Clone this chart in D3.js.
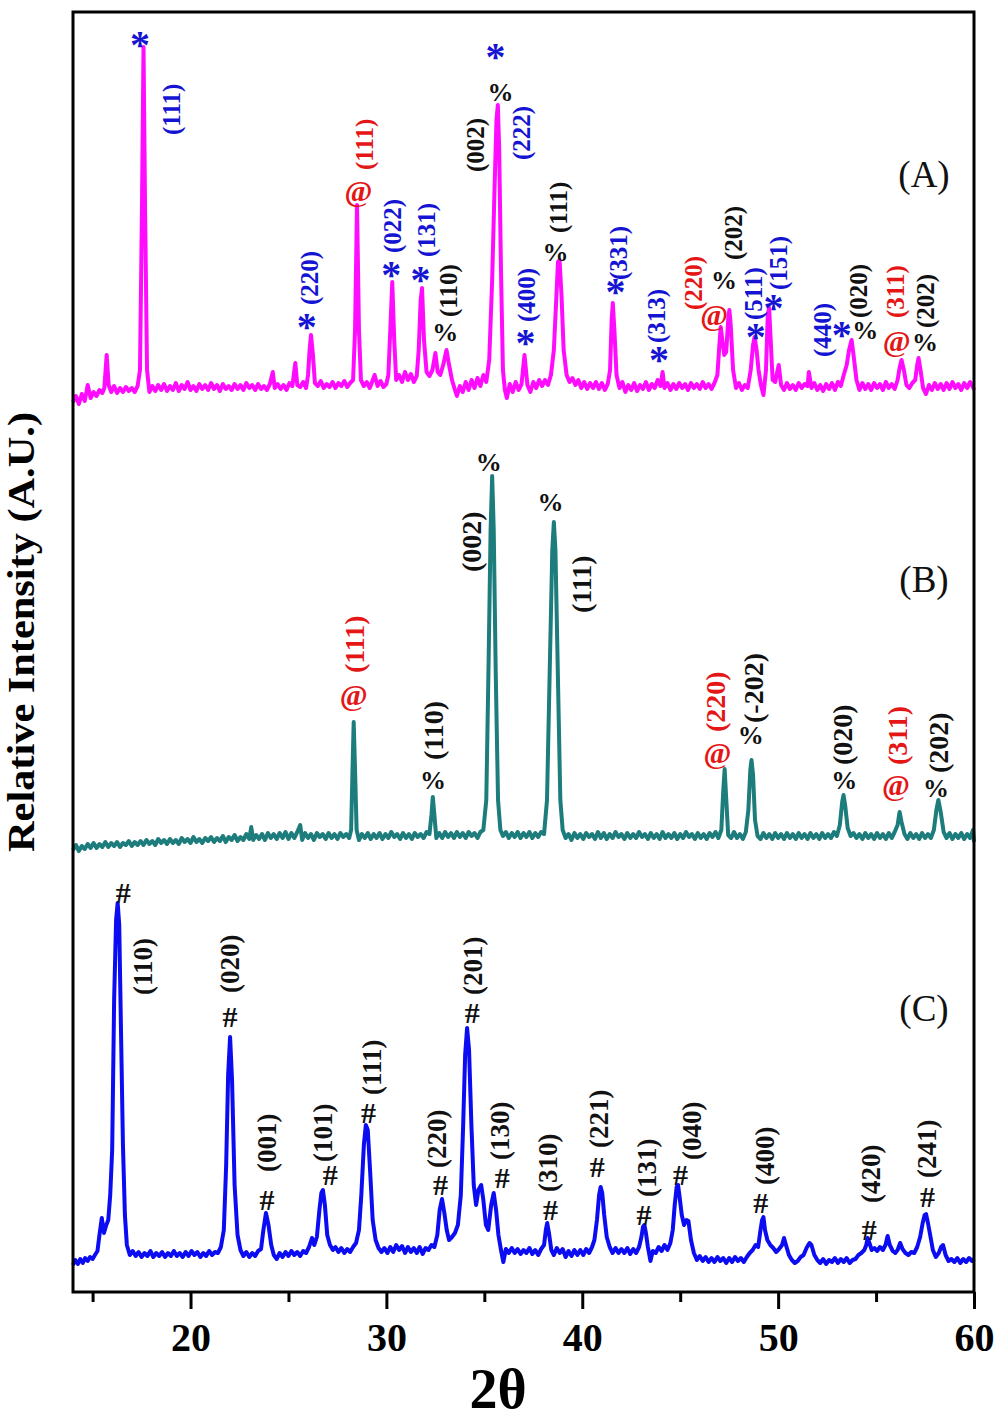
<!DOCTYPE html>
<html>
<head>
<meta charset="utf-8">
<script src="https://cdn.jsdelivr.net/npm/d3@7"></script>
<style>
  body { margin: 0; background: #fff; }
  svg { display: block; }
  text { font-family: "Liberation Serif", "Times New Roman", serif; }
</style>
</head>
<body>
<svg id="chart"></svg>
<script>
// XRD patterns, [2theta, intensity (A.U.)]
const traceA = [
  [14.0,8],[14.15,14],[14.3,6],[14.45,16],[14.6,9],[14.75,25],[14.9,12],[15.05,18],[15.2,14],[15.35,20],[15.5,17],[15.6,22],
  [15.72,55],[15.82,25],[15.95,18],[16.1,24],[16.25,17],[16.4,22],[16.55,18],[16.7,23],[16.85,19],[17.0,22],[17.15,18],[17.3,24],
  [17.42,40],[17.52,200],[17.6,363],[17.68,200],[17.78,40],[17.9,18],[18.05,24],[18.2,19],[18.35,25],[18.5,20],[18.65,26],[18.8,19],
  [18.95,24],[19.1,20],[19.25,27],[19.4,19],[19.55,25],[19.7,21],[19.85,28],[20.0,20],[20.15,24],[20.3,19],[20.45,26],[20.6,21],
  [20.75,25],[20.9,20],[21.05,27],[21.2,21],[21.35,25],[21.5,19],[21.65,26],[21.8,21],[21.95,24],[22.1,20],[22.25,26],[22.4,21],
  [22.55,25],[22.7,20],[22.85,27],[23.0,22],[23.15,25],[23.3,20],[23.45,26],[23.6,21],[23.75,24],[23.9,20],[24.05,26],[24.2,38],
  [24.3,22],[24.45,26],[24.6,21],[24.75,25],[24.9,20],[25.05,27],[25.2,24],[25.35,47],[25.45,25],[25.6,23],[25.75,28],[25.9,22],
  [26.0,35],[26.08,60],[26.15,75],[26.25,55],[26.35,27],[26.5,24],[26.65,29],[26.8,22],[26.95,26],[27.1,23],[27.25,28],[27.4,22],
  [27.55,27],[27.7,24],[27.85,29],[28.0,23],[28.15,27],[28.3,30],[28.4,80],[28.5,205],[28.6,80],[28.7,30],[28.85,24],[29.0,28],
  [29.15,22],[29.25,27],[29.4,35],[29.55,24],[29.7,29],[29.85,23],[30.0,26],[30.1,35],[30.2,80],[30.3,128],[30.4,70],[30.5,30],
  [30.65,35],[30.8,28],[30.95,38],[31.1,30],[31.25,36],[31.4,28],[31.55,34],[31.65,60],[31.75,110],[31.82,122],[31.92,70],[32.05,38],
  [32.2,34],[32.35,40],[32.5,57],[32.62,38],[32.75,35],[32.9,45],[33.07,60],[33.2,45],[33.35,30],[33.5,20],[33.6,14],[33.75,24],
  [33.9,18],[34.05,28],[34.2,20],[34.35,30],[34.5,22],[34.65,32],[34.8,24],[34.95,35],[35.1,28],[35.25,50],[35.4,130],[35.52,220],
  [35.62,290],[35.69,305],[35.76,260],[35.85,140],[35.95,40],[36.05,20],[36.15,12],[36.3,26],[36.45,18],[36.6,28],[36.75,20],[36.9,26],
  [37.05,55],[37.2,25],[37.35,18],[37.5,28],[37.65,22],[37.8,30],[37.95,24],[38.1,30],[38.25,25],[38.4,35],[38.55,60],[38.67,110],
  [38.76,148],[38.84,150],[38.94,115],[39.05,60],[39.2,35],[39.35,28],[39.5,32],[39.65,25],[39.8,30],[39.95,22],[40.1,28],[40.25,21],
  [40.4,27],[40.55,22],[40.7,28],[40.85,21],[41.0,27],[41.15,20],[41.3,26],[41.42,40],[41.5,90],[41.56,107],[41.64,80],[41.75,35],
  [41.9,22],[42.05,28],[42.2,18],[42.35,25],[42.5,20],[42.65,27],[42.8,19],[42.95,25],[43.1,21],[43.25,28],[43.4,20],[43.55,26],
  [43.7,22],[43.85,30],[44.0,24],[44.1,38],[44.2,22],[44.35,27],[44.5,20],[44.65,26],[44.8,21],[44.95,27],[45.1,22],[45.25,26],
  [45.4,20],[45.55,27],[45.7,22],[45.85,26],[46.0,21],[46.15,28],[46.3,22],[46.45,26],[46.6,21],[46.75,27],[46.9,35],[47.0,65],
  [47.07,83],[47.15,70],[47.25,55],[47.35,58],[47.45,90],[47.51,100],[47.58,85],[47.7,40],[47.85,22],[48.0,27],[48.15,20],[48.3,25],
  [48.45,22],[48.6,40],[48.72,65],[48.8,73],[48.9,60],[49.0,40],[49.12,25],[49.25,15],[49.38,40],[49.47,95],[49.54,102],[49.62,70],
  [49.72,30],[49.85,28],[50.03,45],[50.15,25],[50.3,20],[50.45,27],[50.6,21],[50.75,25],[50.9,20],[51.05,27],[51.2,22],[51.35,26],
  [51.5,24],[51.57,38],[51.7,22],[51.85,27],[52.0,20],[52.15,25],[52.3,19],[52.45,26],[52.6,21],[52.75,27],[52.9,20],[53.05,28],
  [53.2,24],[53.35,35],[53.5,45],[53.62,60],[53.75,70],[53.85,55],[54.0,30],[54.15,20],[54.3,27],[54.45,21],[54.6,26],[54.75,20],
  [54.9,27],[55.05,22],[55.2,26],[55.35,20],[55.5,28],[55.65,22],[55.8,26],[55.95,21],[56.1,30],[56.2,42],[56.3,50],[56.42,40],
  [56.55,25],[56.7,22],[56.85,27],[57.0,30],[57.1,45],[57.17,52],[57.27,40],[57.4,22],[57.55,16],[57.7,25],[57.85,20],[58.0,27],
  [58.15,21],[58.3,26],[58.45,20],[58.6,27],[58.75,21],[58.9,28],[59.05,22],[59.2,26],[59.35,20],[59.5,27],[59.65,22],[59.8,28],
  [59.95,23],[60.0,20]
];

const traceB = [
  [14.0,10],[14.15,15],[14.3,9],[14.45,14],[14.6,11],[14.75,16],[14.9,12],[15.05,17],[15.2,12],[15.35,16],[15.5,13],[15.65,18],
  [15.8,13],[15.95,17],[16.1,14],[16.25,18],[16.4,13],[16.55,17],[16.7,15],[16.85,19],[17.0,14],[17.15,18],[17.3,15],[17.45,19],
  [17.6,15],[17.75,20],[17.9,16],[18.05,19],[18.2,15],[18.35,21],[18.5,17],[18.65,20],[18.8,16],[18.95,21],[19.1,17],[19.25,20],
  [19.4,16],[19.55,22],[19.7,18],[19.85,21],[20.0,17],[20.15,23],[20.3,18],[20.45,21],[20.6,17],[20.75,22],[20.9,19],[21.05,23],
  [21.2,18],[21.35,22],[21.5,19],[21.65,24],[21.8,18],[21.95,23],[22.1,20],[22.25,25],[22.4,19],[22.55,23],[22.7,20],[22.85,26],
  [23.0,21],[23.1,33],[23.2,20],[23.35,25],[23.5,21],[23.65,26],[23.8,20],[23.95,27],[24.1,22],[24.25,26],[24.4,21],[24.55,27],
  [24.7,22],[24.85,28],[25.0,21],[25.15,27],[25.3,22],[25.45,28],[25.6,35],[25.7,20],[25.85,27],[26.0,22],[26.15,26],[26.3,20],
  [26.45,27],[26.6,23],[26.75,26],[26.9,21],[27.05,27],[27.2,22],[27.35,26],[27.5,21],[27.65,27],[27.8,23],[27.95,26],[28.1,22],
  [28.2,30],[28.27,90],[28.33,138],[28.4,90],[28.48,30],[28.6,20],[28.75,26],[28.9,22],[29.05,27],[29.2,21],[29.35,26],[29.5,22],
  [29.65,27],[29.8,21],[29.95,26],[30.1,22],[30.25,28],[30.4,23],[30.55,26],[30.7,21],[30.85,27],[31.0,22],[31.15,26],[31.3,21],
  [31.45,27],[31.6,23],[31.75,26],[31.9,22],[32.05,28],[32.2,26],[32.3,45],[32.37,63],[32.45,45],[32.55,22],[32.7,27],[32.85,22],
  [33.0,28],[33.15,23],[33.3,27],[33.45,22],[33.6,28],[33.75,23],[33.9,27],[34.05,22],[34.2,28],[34.35,24],[34.5,27],[34.65,22],
  [34.8,28],[34.95,30],[35.1,60],[35.22,200],[35.32,330],[35.4,384],[35.48,330],[35.58,190],[35.7,60],[35.82,30],[35.95,24],[36.1,28],
  [36.25,22],[36.4,27],[36.55,23],[36.7,28],[36.85,22],[37.0,27],[37.15,23],[37.3,28],[37.45,22],[37.6,27],[37.75,23],[37.9,28],
  [38.05,26],[38.2,60],[38.35,200],[38.47,310],[38.55,338],[38.63,310],[38.75,190],[38.88,60],[39.0,30],[39.15,22],[39.3,26],[39.45,20],
  [39.6,27],[39.75,22],[39.9,26],[40.05,21],[40.2,27],[40.35,23],[40.5,26],[40.65,21],[40.8,28],[40.95,22],[41.1,27],[41.25,21],
  [41.4,26],[41.55,22],[41.7,28],[41.85,23],[42.0,26],[42.15,21],[42.3,27],[42.45,22],[42.6,26],[42.75,22],[42.9,28],[43.05,23],
  [43.2,26],[43.35,21],[43.5,27],[43.65,22],[43.8,26],[43.95,21],[44.1,28],[44.25,22],[44.4,26],[44.55,22],[44.7,27],[44.85,21],
  [45.0,26],[45.15,22],[45.3,28],[45.45,23],[45.6,26],[45.75,21],[45.9,27],[46.05,22],[46.2,26],[46.35,21],[46.5,27],[46.65,23],
  [46.8,28],[46.95,22],[47.1,30],[47.2,70],[47.27,91],[47.34,65],[47.45,25],[47.6,22],[47.75,28],[47.9,22],[48.05,26],[48.2,21],
  [48.35,28],[48.48,50],[48.58,90],[48.64,100],[48.72,85],[48.82,40],[48.95,24],[49.1,21],[49.25,27],[49.4,22],[49.55,26],[49.7,21],
  [49.85,27],[50.0,22],[50.15,26],[50.3,21],[50.45,27],[50.6,22],[50.75,26],[50.9,21],[51.05,27],[51.2,22],[51.35,26],[51.5,21],
  [51.65,27],[51.8,22],[51.95,26],[52.1,21],[52.25,27],[52.4,22],[52.55,26],[52.7,22],[52.85,28],[53.0,24],[53.15,35],[53.27,58],
  [53.34,65],[53.42,55],[53.55,32],[53.7,24],[53.85,27],[54.0,22],[54.15,26],[54.3,21],[54.45,27],[54.6,22],[54.75,26],[54.9,21],
  [55.05,27],[55.2,22],[55.35,26],[55.5,21],[55.65,27],[55.8,22],[55.95,28],[56.1,35],[56.2,48],[56.3,38],[56.45,26],[56.6,21],
  [56.75,27],[56.9,22],[57.05,26],[57.2,21],[57.35,27],[57.5,22],[57.65,26],[57.8,22],[57.95,30],[58.08,50],[58.18,60],[58.3,48],
  [58.45,28],[58.6,22],[58.75,27],[58.9,21],[59.05,26],[59.2,22],[59.35,27],[59.5,21],[59.65,26],[59.8,22],[59.95,30],[60.0,18]
];

const traceC = [
  [14.0,10],[14.12,15],[14.25,11],[14.37,16],[14.5,12],[14.62,17],[14.75,14],[14.87,18],[15.0,16],[15.12,20],[15.25,24],[15.35,40],
  [15.47,57],[15.58,42],[15.7,50],[15.8,55],[15.9,80],[16.0,125],[16.1,275],[16.2,355],[16.28,372],[16.36,350],[16.45,245],[16.55,130],
  [16.65,60],[16.75,30],[16.9,20],[17.05,24],[17.2,19],[17.35,23],[17.5,18],[17.65,22],[17.8,19],[17.95,24],[18.1,18],[18.25,22],
  [18.4,19],[18.55,23],[18.7,18],[18.85,22],[19.0,19],[19.15,24],[19.3,19],[19.45,22],[19.6,18],[19.75,23],[19.9,19],[20.05,24],
  [20.2,20],[20.35,23],[20.5,18],[20.65,22],[20.8,19],[20.95,24],[21.1,20],[21.25,23],[21.4,22],[21.55,28],[21.7,45],[21.82,110],
  [21.92,200],[22.02,238],[22.12,195],[22.25,90],[22.4,40],[22.55,25],[22.7,19],[22.85,23],[23.0,18],[23.15,22],[23.3,19],[23.45,24],
  [23.6,26],[23.72,45],[23.85,62],[23.98,50],[24.12,30],[24.25,20],[24.4,16],[24.55,22],[24.7,18],[24.85,23],[25.0,19],[25.15,24],
  [25.3,20],[25.45,23],[25.6,19],[25.75,24],[25.9,22],[26.05,28],[26.2,37],[26.32,30],[26.45,38],[26.58,65],[26.68,82],[26.76,85],
  [26.86,70],[26.98,40],[27.12,30],[27.27,25],[27.4,28],[27.55,23],[27.7,27],[27.85,22],[28.0,26],[28.15,23],[28.3,28],[28.45,32],
  [28.6,45],[28.72,80],[28.85,130],[28.95,150],[29.05,145],[29.18,100],[29.3,55],[29.45,35],[29.6,27],[29.75,23],[29.9,27],[30.05,22],
  [30.2,28],[30.35,23],[30.5,30],[30.65,25],[30.8,29],[30.95,22],[31.1,28],[31.25,23],[31.4,27],[31.55,22],[31.7,28],[31.85,21],
  [32.0,27],[32.15,25],[32.3,30],[32.45,28],[32.6,40],[32.72,65],[32.84,76],[32.96,62],[33.08,45],[33.2,35],[33.35,38],[33.5,42],
  [33.65,50],[33.8,80],[33.92,150],[34.02,220],[34.12,247],[34.22,225],[34.34,150],[34.46,90],[34.58,70],[34.7,85],[34.84,90],[34.95,75],
  [35.08,50],[35.2,45],[35.35,70],[35.48,82],[35.6,65],[35.72,40],[35.85,25],[35.97,13],[36.1,26],[36.25,22],[36.4,27],[36.55,22],
  [36.7,26],[36.85,21],[37.0,25],[37.15,22],[37.3,27],[37.45,21],[37.6,25],[37.75,20],[37.9,26],[38.05,30],[38.14,45],[38.21,52],
  [38.3,42],[38.42,25],[38.55,20],[38.7,27],[38.85,22],[39.0,26],[39.15,18],[39.3,24],[39.45,19],[39.6,25],[39.75,20],[39.9,25],
  [40.05,20],[40.2,26],[40.35,22],[40.5,28],[40.62,35],[40.75,55],[40.86,80],[40.94,88],[41.02,82],[41.12,60],[41.25,38],[41.4,28],
  [41.55,22],[41.7,27],[41.85,22],[42.0,26],[42.15,22],[42.3,27],[42.45,21],[42.6,26],[42.75,22],[42.9,28],[43.02,38],[43.1,48],
  [43.17,50],[43.25,42],[43.35,28],[43.48,14],[43.6,24],[43.75,22],[43.9,28],[44.05,24],[44.2,30],[44.35,25],[44.5,32],[44.62,45],
  [44.72,70],[44.82,88],[44.89,90],[44.97,78],[45.08,60],[45.2,50],[45.32,55],[45.42,54],[45.55,35],[45.7,22],[45.85,15],[46.0,19],
  [46.15,14],[46.3,18],[46.45,13],[46.6,17],[46.75,13],[46.9,18],[47.05,14],[47.2,17],[47.35,12],[47.5,17],[47.65,13],[47.8,18],
  [47.95,14],[48.1,17],[48.25,13],[48.4,18],[48.55,22],[48.7,25],[48.85,30],[48.98,28],[49.1,45],[49.18,55],[49.25,58],[49.33,45],
  [49.45,35],[49.6,30],[49.75,27],[49.9,23],[50.05,26],[50.2,30],[50.3,37],[50.4,30],[50.55,20],[50.7,15],[50.85,12],[51.0,14],
  [51.15,18],[51.3,20],[51.45,27],[51.6,32],[51.7,30],[51.85,20],[52.0,15],[52.15,12],[52.3,16],[52.45,11],[52.6,15],[52.75,13],
  [52.9,17],[53.05,12],[53.2,16],[53.35,13],[53.5,17],[53.65,12],[53.8,15],[53.95,16],[54.1,20],[54.25,22],[54.4,25],[54.5,30],
  [54.57,37],[54.66,32],[54.78,25],[54.92,27],[55.05,24],[55.2,28],[55.35,25],[55.48,30],[55.59,39],[55.7,30],[55.85,24],[55.98,22],
  [56.1,25],[56.23,32],[56.35,26],[56.5,22],[56.65,20],[56.8,23],[56.95,22],[57.1,28],[57.25,38],[57.38,52],[57.48,60],[57.55,61],
  [57.65,52],[57.78,38],[57.9,25],[58.05,18],[58.2,22],[58.32,28],[58.42,30],[58.55,20],[58.7,14],[58.85,16],[59.0,13],[59.15,17],
  [59.3,12],[59.45,16],[59.6,13],[59.75,17],[59.9,14],[60.0,16]
];

// phase marks: [2theta, intensity, symbol]
const marksA = [
  [17.42,370,"*"],[25.94,88,"*"],[28.58,217,"@"],[30.25,140,"*"],[31.74,135,"*"],[33.01,78,"%"],[35.57,358,"*"],[35.82,318,"%"],
  [37.10,72,"*"],[38.64,158,"%"],[41.70,123,"*"],[43.92,55,"*"],[46.73,93,"@"],[47.24,130,"%"],[48.86,78,"*"],[49.76,107,"*"],
  [53.25,80,"*"],[54.45,80,"%"],[56.05,67,"@"],[57.5,68,"%"]
];
const marksB = [
  [35.23,398,"%"],[28.33,163,"@"],[32.38,80,"%"],[38.38,358,"%"],[46.90,105,"@"],[48.60,125,"%"],[53.37,80,"%"],[56.01,73,"@"],[58.06,72,"%"]
];
const marksC = [
  [16.57,382,"#"],[22.02,258,"#"],[23.90,75,"#"],[27.14,100,"#"],[29.09,162,"#"],[32.76,90,"#"],[34.38,262,"#"],[35.91,97,"#"],
  [38.38,65,"#"],[40.77,108,"#"],[43.15,60,"#"],[45.02,100,"#"],[49.11,72,"#"],[54.65,45,"#"],[57.63,78,"#"]
];

// Miller indices: [2theta, intensity at start of text, label, phase symbol]
const hklA = [
  [19.04,275,"(111)","*"],[28.92,240,"(111)","@"],[26.11,105,"(220)","*"],[30.32,157,"(022)","*"],[32.08,153,"(131)","*"],
  [33.18,93,"(110)","%"],[34.55,238,"(002)","%"],[36.93,250,"(222)","*"],[37.20,88,"(400)","*"],[38.80,177,"(111)","%"],
  [41.87,130,"(331)","*"],[43.83,67,"(313)","*"],[45.70,100,"(220)","@"],[47.75,150,"(202)","%"],[48.77,90,"(511)","*"],
  [50.05,120,"(151)","*"],[52.27,53,"(440)","*"],[54.14,92,"(020)","%"],[56.01,92,"(311)","@"],[57.55,82,"(202)","%"]
];
const hklB = [
  [34.38,288,"(002)","%"],[28.41,187,"(111)","@"],[32.42,100,"(110)","%"],[40.00,247,"(111)","%"],[46.81,128,"(220)","@"],
  [48.77,137,"(-202)","%"],[53.29,95,"(020)","%"],[56.10,95,"(311)","@"],[58.23,87,"(202)","%"]
];
const hklC = [
  [17.59,280,"(110)"],[22.02,282,"(020)"],[23.90,103,"(001)"],[26.79,113,"(101)"],[29.27,180,"(111)"],[32.59,107,"(220)"],
  [34.46,280,"(201)"],[35.82,115,"(130)"],[38.29,83,"(310)"],[40.85,127,"(221)"],[43.32,78,"(131)"],[45.62,115,"(040)"],
  [49.37,90,"(400)"],[54.74,72,"(420)"],[57.63,97,"(241)"]
];

const majorTicks = [20, 30, 40, 50, 60];
const minorTicks = [15, 25, 35, 45, 55];

const phaseColor = { "*": "#1414d2", "@": "#e41616", "%": "#111", "#": "#111" };

const width = 1000, height = 1423;
const svg = d3.select("#chart").attr("width", width).attr("height", height);

const x = d3.scaleLinear().domain([14, 60]).range([73, 974]);
const y = d3.scaleLinear().domain([0, 1280]).range([1292, 12]);

const panels = [
  { data: traceA, marks: marksA, hkl: hklA, offset: 882, color: "#ff0cff", name: "(A)", hklSize: 25 },
  { data: traceB, marks: marksB, hkl: hklB, offset: 432, color: "#1d7c7c", name: "(B)", hklSize: 28 },
  { data: traceC, marks: marksC, hkl: hklC, offset: 17, color: "#0c0cf2", name: "(C)", hklSize: 27 }
];

const markStyle = {
  "*": { size: 40, dy: "0.46em" },
  "@": { size: 30, dy: "0.28em" },
  "%": { size: 26, dy: "0.34em" },
  "#": { size: 30, dy: "0.34em" }
};

panels.forEach(p => {
  const line = d3.line()
    .x(d => x(d[0]))
    .y(d => y(d[1] + p.offset));

  svg.append("path")
    .datum(p.data)
    .attr("fill", "none")
    .attr("stroke", p.color)
    .attr("stroke-width", 4)
    .attr("stroke-linejoin", "round")
    .attr("d", line);

  svg.append("g").selectAll("text")
    .data(p.marks)
    .enter()
    .append("text")
    .attr("x", d => x(d[0]))
    .attr("y", d => y(d[1] + p.offset))
    .attr("dy", d => markStyle[d[2]].dy)
    .attr("text-anchor", "middle")
    .style("font-size", d => markStyle[d[2]].size + "px")
    .style("font-weight", "bold")
    .attr("fill", d => phaseColor[d[2]])
    .text(d => d[2]);

  svg.append("g").selectAll("text")
    .data(p.hkl)
    .enter()
    .append("text")
    .attr("transform", d => `translate(${x(d[0])},${y(d[1] + p.offset)}) rotate(-90)`)
    .attr("dy", "0.32em")
    .style("font-size", p.hklSize + "px")
    .style("font-weight", "bold")
    .attr("fill", d => phaseColor[d[3] || "#"])
    .text(d => d[2]);
});

// panel names
const nameY = [187, 592, 1021];
panels.forEach((p, i) => {
  svg.append("text")
    .attr("x", 924)
    .attr("y", nameY[i])
    .attr("text-anchor", "middle")
    .style("font-size", "37px")
    .attr("fill", "#111")
    .text(p.name);
});

// frame
svg.append("rect")
  .attr("x", 73).attr("y", 12)
  .attr("width", 901).attr("height", 1280)
  .attr("fill", "none")
  .attr("stroke", "#000")
  .attr("stroke-width", 3);

// x axis ticks
const gMajor = svg.append("g")
  .attr("transform", "translate(0,1292)")
  .call(d3.axisBottom(x).tickValues(majorTicks).tickSize(17).tickFormat(d3.format("d")));
gMajor.select(".domain").remove();
gMajor.selectAll("line").attr("stroke", "#000").attr("stroke-width", 3);
gMajor.selectAll("text")
  .attr("y", 59).attr("dy", null)
  .attr("fill", "#000")
  .style("font-family", "'Liberation Serif', 'Times New Roman', serif")
  .style("font-size", "40px")
  .style("font-weight", "bold");

const gMinor = svg.append("g")
  .attr("transform", "translate(0,1292)")
  .call(d3.axisBottom(x).tickValues(minorTicks).tickSize(10).tickFormat(""));
gMinor.select(".domain").remove();
gMinor.selectAll("line").attr("stroke", "#000").attr("stroke-width", 3);

// axis titles
svg.append("text")
  .attr("x", 498)
  .attr("y", 1408)
  .attr("text-anchor", "middle")
  .style("font-size", "56px")
  .style("font-weight", "bold")
  .text("2θ");

svg.append("text")
  .attr("transform", "translate(21,632) rotate(-90)")
  .attr("dy", "0.35em")
  .attr("text-anchor", "middle")
  .attr("textLength", 440)
  .attr("lengthAdjust", "spacingAndGlyphs")
  .style("font-size", "38px")
  .style("font-weight", "bold")
  .text("Relative Intensity (A.U.)");
</script>
</body>
</html>
